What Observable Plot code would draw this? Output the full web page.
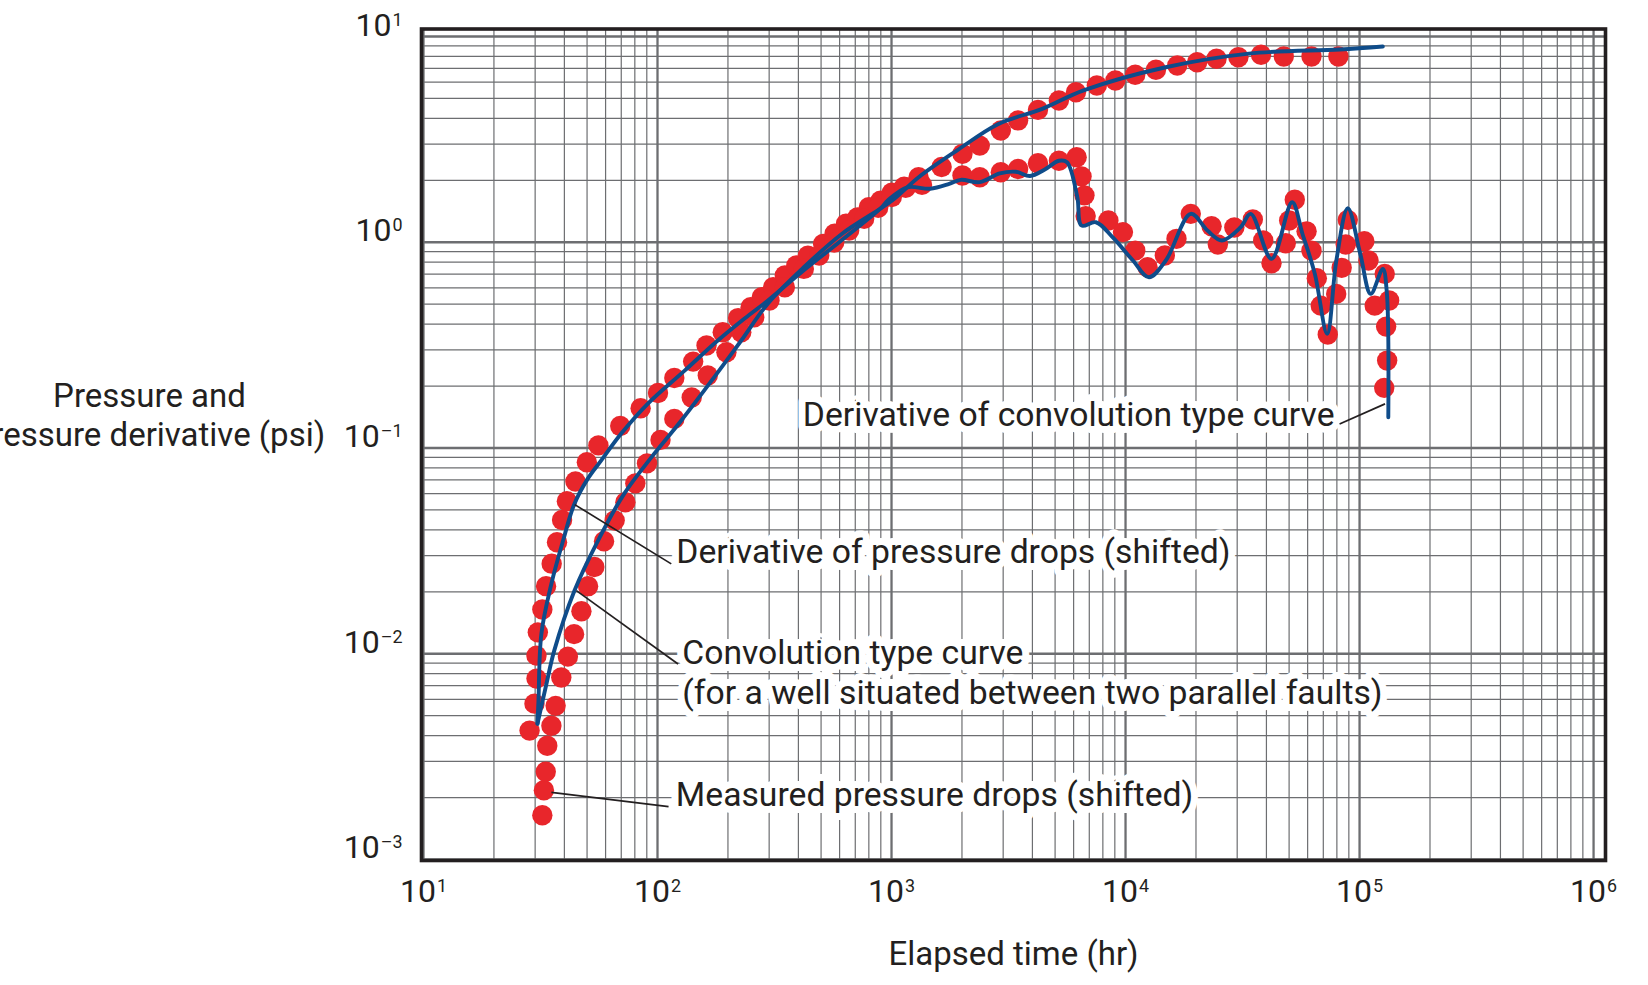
<!DOCTYPE html>
<html>
<head>
<meta charset="utf-8">
<script src="https://cdn.jsdelivr.net/npm/d3@7"></script>
<script src="https://cdn.jsdelivr.net/npm/@observablehq/plot@0.6"></script>
<style>
  html, body { margin: 0; padding: 0; background: #ffffff; overflow: hidden; }
  #chart svg { display: block; }
</style>
</head>
<body>
<div id="chart"></div>
<script>
// ---------------- data ----------------
// Measured pressure drops (shifted)
const pressureTime = [32.2, 32.7, 33.3, 33.8, 35.2, 36.7, 38.8, 41.4, 44.0, 47.3, 50.5, 53.7, 59.1, 65.6, 72.9, 80.4, 90.2, 103, 118, 140, 164, 197, 228, 259, 301, 350, 422, 491, 569, 659, 764, 877, 1003, 1132, 1305, 1637, 2010, 2383, 2931, 3475, 4226, 5190, 6140, 7540, 9050, 11000, 13490, 16640, 20230, 24480, 30360, 37940, 47440, 62320, 81200];
const pressureValue = [0.00164, 0.00217, 0.00267, 0.00357, 0.00447, 0.00558, 0.00766, 0.00968, 0.01245, 0.0161, 0.0213, 0.0264, 0.0352, 0.0444, 0.0545, 0.0673, 0.0842, 0.1095, 0.1385, 0.176, 0.225, 0.292, 0.365, 0.432, 0.521, 0.604, 0.742, 0.862, 0.997, 1.14, 1.30, 1.47, 1.66, 1.86, 2.07, 2.32, 2.69, 2.95, 3.49, 3.91, 4.40, 4.89, 5.36, 5.78, 6.11, 6.52, 6.89, 7.23, 7.50, 7.79, 7.93, 8.15, 8.0, 8.0, 8.0];

// Derivative of pressure drops (shifted)
const derivTime = [28.4, 29.8, 30.4, 30.4, 30.8, 32.2, 33.4, 35.3, 37.2, 39.1, 41.0, 44.6, 49.9, 55.9, 69.3, 84.7, 100.5, 118, 142, 162, 190, 221, 250, 279, 312, 350, 392, 439, 510, 571, 639, 715, 800, 897, 1003, 1150, 1350, 2010, 2383, 2931, 3475, 4226, 5190, 6180, 6486, 6676, 6755, 8447, 9750, 11000, 12420, 14720, 16510, 19000, 23320, 24800, 29170, 34990, 38760, 42050, 48390, 50040, 52870, 59380, 62320, 65670, 68280, 73140, 79470, 83870, 87280, 89060, 104800, 109200, 116100, 128100, 133800, 129900, 131200, 127500];
const derivValue = [0.00423, 0.00572, 0.00757, 0.00979, 0.0127, 0.0164, 0.0213, 0.0274, 0.0348, 0.0447, 0.0551, 0.0687, 0.0853, 0.103, 0.128, 0.156, 0.185, 0.219, 0.263, 0.315, 0.365, 0.428, 0.483, 0.541, 0.604, 0.689, 0.771, 0.861, 0.982, 1.10, 1.23, 1.32, 1.48, 1.59, 1.74, 1.84, 1.90, 2.11, 2.07, 2.19, 2.27, 2.42, 2.49, 2.59, 2.09, 1.69, 1.34, 1.275, 1.12, 0.911, 0.756, 0.862, 1.039, 1.374, 1.196, 0.975, 1.18, 1.29, 1.02, 0.79, 0.989, 1.275, 1.61, 1.13, 0.911, 0.668, 0.492, 0.356, 0.561, 0.751, 0.975, 1.285, 1.011, 0.815, 0.492, 0.702, 0.521, 0.389, 0.266, 0.196];

// Convolution type curve
const convTime = [30.7, 33.5, 36.2, 44.2, 55.7, 72.1, 94.1, 126.4, 174.8, 228, 296.5, 422, 615, 1003, 1306, 1901, 2850, 4405, 6618, 14860, 33650, 82340, 125700];
const convValue = [0.00457, 0.00711, 0.01035, 0.0203, 0.0355, 0.060, 0.090, 0.136, 0.221, 0.333, 0.504, 0.756, 1.10, 1.59, 2.07, 2.79, 3.75, 4.45, 5.47, 7.09, 8.26, 8.65, 8.94];

// Derivative of convolution type curve
const convDerivTime = [30.7, 31.0, 31.9, 35.2, 39.5, 44.0, 50.0, 57.5, 70.0, 91.0, 130.6, 181, 235.5, 296.5, 411, 610, 903, 966, 1167, 1462, 1763, 1975, 2383, 2900, 3400, 3908, 4500, 5190, 5620, 6223, 6486, 7475, 8800, 10760, 12590, 14860, 19000, 22380, 25800, 30980, 34280, 42050, 51500, 57000, 64400, 72700, 79600, 89060, 100700, 111600, 125700, 130600, 132700];
const convDerivValue = [0.00457, 0.00592, 0.0125, 0.0219, 0.0355, 0.053, 0.070, 0.087, 0.1175, 0.1644, 0.2377, 0.333, 0.426, 0.521, 0.713, 1.02, 1.47, 1.60, 1.85, 1.82, 1.92, 2.01, 1.96, 2.16, 2.20, 2.10, 2.25, 2.49, 2.45, 1.655, 1.206, 1.251, 1.058, 0.815, 0.676, 0.815, 1.374, 1.14, 1.02, 1.18, 1.374, 0.830, 1.565, 1.10, 0.702, 0.359, 0.815, 1.463, 0.878, 0.561, 0.742, 0.582, 0.141];

// Annotations (data units)
const annotationText = [
  "Derivative of convolution type curve",
  "Derivative of pressure drops (shifted)",
  "Convolution type curve\n(for a well situated between two parallel faults)",
  "Measured pressure drops (shifted)"
];
const annotationTime = [418, 120.3, 127.6, 119.8];
const annotationValue = [0.1285, 0.02773, 0.005719, 0.001826];

// Leader lines: from (time1, value1) to (time2, value2)
const leaderTime1 = [82150, 44.3, 45.0, 35.2];
const leaderValue1 = [0.1309, 0.05306, 0.02026, 0.002119];
const leaderTime2 = [128500, 114.5, 122.4, 111.5];
const leaderValue2 = [0.1638, 0.02733, 0.00892, 0.001806];

// Ticks
const xTickValues = [10, 100, 1000, 10000, 100000, 1000000];
const xTickLabels = ["10^1", "10^2", "10^3", "10^4", "10^5", "10^6"];
const yTickValues = [0.001, 0.01, 0.1, 1, 10];
const yTickLabels = ["10^\u20133", "10^\u20132", "10^\u20131", "10^0", "10^1"];

const xTitle = "Elapsed time (hr)";
const yTitle = "Pressure and\npressure derivative (psi)";

// ---------------- build ----------------
const zip = (xs, ys) => xs.map((x, i) => ({x, y: ys[i]}));
const pressure = zip(pressureTime, pressureValue);
const deriv = zip(derivTime, derivValue);
const conv = zip(convTime, convValue);
const convDeriv = zip(convDerivTime, convDerivValue);
const annotations = annotationText.map((t, i) => ({text: t, x: annotationTime[i], y: annotationValue[i]}));
const leaders = leaderTime1.map((t, i) => ({x1: t, y1: leaderValue1[i], x2: leaderTime2[i], y2: leaderValue2[i]}));

const xMajor = xTickValues;
const xMinor = [];
for (let k = 1; k <= 5; k++) for (let m = 2; m <= 9; m++) xMinor.push(m * 10 ** k);
const yMajor = yTickValues;
const yMinor = [];
for (let k = -3; k <= 0; k++) for (let m = 2; m <= 9; m++) yMinor.push(m * 10 ** k);

const xLabelOf = new Map(xTickValues.map((v, i) => [v, xTickLabels[i]]));
const yLabelOf = new Map(yTickValues.map((v, i) => [v, yTickLabels[i]]));

const FONT = "Roboto, 'Liberation Sans', sans-serif";
const INK = "#231f20";
const GRID = "#6d6e71";
const RED = "#e8262b";
const BLUE = "#0f4c8a";
const FS_ANN = 33.7;
const FS_TITLE = 33;
const FS_TICK = 32;

const chart = Plot.plot({
  width: 1648,
  height: 985,
  marginLeft: 421,
  marginRight: 43,
  marginTop: 28.5,
  marginBottom: 125,
  x: {type: "log", domain: [10 ** 0.9915, 10 ** 6.051]},
  y: {type: "log", domain: [10 ** -3.005, 10 ** 1.0365]},
  style: {fontFamily: FONT, fontSize: FS_TICK + "px", color: INK, background: "#ffffff", overflow: "visible"},
  marks: [
    Plot.ruleX(xMinor, {stroke: GRID, strokeWidth: 1.2}),
    Plot.ruleX(xMajor, {stroke: GRID, strokeWidth: 2.3}),
    Plot.ruleY(yMinor, {stroke: GRID, strokeWidth: 1.2}),
    Plot.ruleY(yMajor, {stroke: GRID, strokeWidth: 2.3}),
    // white boxes behind annotation text (hide grid)
    Plot.text(annotations, {x: "x", y: "y", text: "text", textAnchor: "start", lineAnchor: "bottom",
      fontSize: FS_ANN, lineHeight: 40 / FS_ANN, fill: "#ffffff", stroke: "#ffffff", strokeWidth: 14, strokeLinejoin: "round"}),
    Plot.dot(deriv, {x: "x", y: "y", r: 10.2, fill: RED, stroke: "none"}),
    Plot.dot(pressure, {x: "x", y: "y", r: 10.2, fill: RED, stroke: "none"}),
    Plot.line(conv, {x: "x", y: "y", stroke: BLUE, strokeWidth: 3.9, curve: "catmull-rom"}),
    Plot.line(convDeriv, {x: "x", y: "y", stroke: BLUE, strokeWidth: 3.9, curve: "catmull-rom"}),
    Plot.link(leaders, {x1: "x1", y1: "y1", x2: "x2", y2: "y2", stroke: INK, strokeWidth: 1.7}),
    Plot.text(annotations, {x: "x", y: "y", text: "text", textAnchor: "start", lineAnchor: "bottom",
      fontSize: FS_ANN, lineHeight: 40 / FS_ANN, fill: INK}),
    Plot.frame({stroke: INK, strokeWidth: 3.6}),
    Plot.axisX({ticks: xTickValues, tickFormat: d => xLabelOf.get(d), tickSize: 0, tickPadding: 19,
      fontSize: FS_TICK, lineAnchor: "top", label: null, fill: INK}),
    Plot.axisY({ticks: yTickValues, tickFormat: d => yLabelOf.get(d), tickSize: 0, tickPadding: 19,
      fontSize: FS_TICK, lineAnchor: "bottom", textAnchor: "end", dy: -1, label: null, fill: INK}),
    Plot.text([xTitle], {frameAnchor: "bottom", dy: 94, lineAnchor: "middle", textAnchor: "middle", fontSize: FS_TITLE, fill: INK}),
    Plot.text([yTitle], {frameAnchor: "left", dx: -272, dy: -30.4, lineAnchor: "middle", textAnchor: "middle",
      fontSize: FS_TITLE, lineHeight: 39 / FS_TITLE, fill: INK})
  ]
});

// superscript exponents on tick labels
chart.querySelectorAll("text").forEach(t => {
  const s = t.textContent;
  if (!/^10\^/.test(s) || t.querySelector("tspan")) return;
  const exp = s.split("^")[1];
  t.textContent = "";
  const ns = "http://www.w3.org/2000/svg";
  const base = document.createElementNS(ns, "tspan");
  base.textContent = "10";
  const sup = document.createElementNS(ns, "tspan");
  sup.textContent = exp;
  sup.setAttribute("font-size", "0.56em");
  sup.setAttribute("dy", "-10");
  sup.setAttribute("dx", "1");
  t.appendChild(base);
  t.appendChild(sup);
});

document.getElementById("chart").appendChild(chart);
</script>
</body>
</html>
